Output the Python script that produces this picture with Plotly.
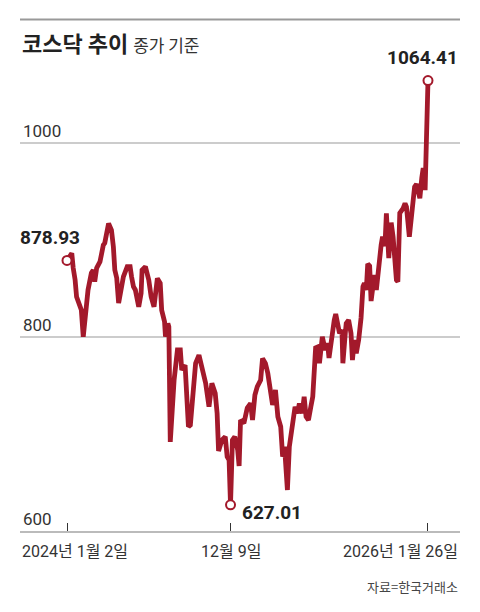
import plotly.graph_objects as go

dates = [
    "2024-01-02", "2024-01-12", "2024-01-15", "2024-01-19", "2024-01-22", "2024-01-26",
    "2024-02-01", "2024-02-05", "2024-02-08", "2024-02-15", "2024-02-22", "2024-02-26",
    "2024-02-29", "2024-03-04", "2024-03-11", "2024-03-14", "2024-03-18", "2024-03-21",
    "2024-03-25", "2024-03-29", "2024-04-04", "2024-04-08", "2024-04-11", "2024-04-15",
    "2024-04-19", "2024-04-24", "2024-04-29", "2024-05-07", "2024-05-13", "2024-05-16",
    "2024-05-20", "2024-05-24", "2024-05-31", "2024-06-05", "2024-06-07", "2024-06-14",
    "2024-06-21", "2024-06-26", "2024-07-02", "2024-07-09", "2024-07-15", "2024-07-18",
    "2024-07-24", "2024-07-26", "2024-07-31", "2024-08-02", "2024-08-05", "2024-08-13",
    "2024-08-20", "2024-08-26", "2024-08-29", "2024-09-05", "2024-09-12", "2024-09-16",
    "2024-09-20", "2024-09-27", "2024-10-04", "2024-10-10", "2024-10-18", "2024-10-25",
    "2024-10-31", "2024-11-07", "2024-11-11", "2024-11-14", "2024-11-21", "2024-11-28",
    "2024-12-02", "2024-12-06", "2024-12-09", "2024-12-13", "2024-12-18", "2024-12-24",
    "2024-12-27", "2024-12-30", "2025-01-06", "2025-01-13", "2025-01-20", "2025-01-24",
    "2025-01-29", "2025-02-03", "2025-02-10", "2025-02-14", "2025-02-20", "2025-02-25",
    "2025-03-04", "2025-03-07", "2025-03-13", "2025-03-18", "2025-03-24", "2025-03-28",
    "2025-04-01", "2025-04-07", "2025-04-11", "2025-04-17", "2025-04-23", "2025-04-28",
    "2025-05-02", "2025-05-08", "2025-05-12", "2025-05-16", "2025-05-21", "2025-05-26",
    "2025-05-30", "2025-06-05", "2025-06-11", "2025-06-13", "2025-06-19", "2025-06-25",
    "2025-06-30", "2025-07-03", "2025-07-09", "2025-07-14", "2025-07-17", "2025-07-23",
    "2025-07-25", "2025-07-30", "2025-08-01", "2025-08-06", "2025-08-08", "2025-08-13",
    "2025-08-18", "2025-08-21", "2025-08-25", "2025-08-29", "2025-09-03", "2025-09-08",
    "2025-09-12", "2025-09-15", "2025-09-19", "2025-09-22", "2025-09-26", "2025-09-29",
    "2025-10-06", "2025-10-10", "2025-10-15", "2025-10-20", "2025-10-23", "2025-10-28",
    "2025-10-31", "2025-11-05", "2025-11-10", "2025-11-14", "2025-11-21", "2025-11-24",
    "2025-11-28", "2025-12-05", "2025-12-09", "2025-12-12", "2025-12-18", "2025-12-23",
    "2025-12-29", "2026-01-02", "2026-01-06", "2026-01-09", "2026-01-13", "2026-01-16",
    "2026-01-20", "2026-01-22", "2026-01-23", "2026-01-26",
]

values = [
    878.93, 886.3, 871.1, 858.8, 841.5, 836.4,
    827.8, 800.3, 817.5, 848.5, 866.0, 869.1,
    857.0, 871.1, 877.6, 886.6, 894.8, 896.9,
    910.3, 917.2, 910.3, 893.1, 869.1, 860.8,
    835.1, 848.5, 862.2, 872.5, 872.5, 862.2,
    851.9, 848.5, 831.2, 845.1, 869.1, 872.5,
    858.8, 841.5, 831.2, 860.5, 855.4, 827.8,
    815.8, 800.3, 814.1, 810.6, 691.8, 755.7,
    786.6, 786.6, 766.0, 771.1, 707.5, 709.3,
    738.5, 772.9, 781.4, 770.1, 752.3, 728.1,
    752.3, 742.0, 721.3, 682.5, 693.8, 697.2,
    676.6, 673.2, 627.01, 693.8, 697.2, 683.5,
    667.0, 714.4, 711.0, 726.8, 731.6, 714.4,
    740.2, 748.8, 755.7, 778.0, 772.9, 762.6,
    742.0, 729.9, 745.4, 717.8, 707.5, 676.6,
    686.9, 642.3, 686.9, 704.1, 728.1, 721.3,
    731.6, 721.3, 738.5, 717.8, 714.4, 728.1,
    738.5, 788.7, 790.0, 772.9, 800.3, 786.6,
    793.5, 778.4, 803.8, 817.5, 823.7, 810.6,
    803.8, 807.2, 772.9, 803.8, 814.1, 817.5,
    803.8, 776.3, 796.9, 783.2, 796.9, 819.6,
    851.9, 855.4, 848.5, 875.3, 873.2, 837.1,
    863.9, 848.5, 879.4, 894.8, 903.4, 893.8,
    927.5, 881.4, 918.0, 903.4, 858.8, 857.0,
    927.8, 932.7, 937.8, 934.3, 903.4, 930.9,
    954.9, 957.7, 944.6, 943.0, 963.9, 974.2,
    951.5, 982.5, 1003.1, 1064.41,
]

y_ticks = [600, 800, 1000]
y_tick_labels = ["600", "800", "1000"]
x_tick_dates = ["2024-01-02", "2024-12-09", "2026-01-26"]
x_tick_labels = ["2024년 1월 2일", "12월 9일", "2026년 1월 26일"]

RED = "#a3192b"
NUM_FONT = "Roboto, Noto Sans CJK KR, sans-serif"
KR_FONT = "Noto Sans CJK KR, sans-serif"

i_min = values.index(min(values))
key_idx = [0, i_min, len(values) - 1]

fig = go.Figure()
fig.add_trace(go.Scatter(
    x=dates, y=values, mode="lines",
    line=dict(color=RED, width=4.8), hoverinfo="skip",
))
fig.add_trace(go.Scatter(
    x=[dates[i] for i in key_idx], y=[values[i] for i in key_idx],
    mode="markers",
    marker=dict(symbol="circle", size=9, color="white", line=dict(color=RED, width=2)),
    hoverinfo="skip",
))

annotations = [
    dict(xref="paper", yref="paper", x=0, y=1.038, xanchor="left", yanchor="middle",
         text="<b>코스닥 추이</b> <span style='font-size:17px;color:#333'>종가 기준</span>",
         showarrow=False, font=dict(family=KR_FONT, size=22, color="#222")),
    dict(xref="x", yref="y", x=dates[0], y=values[0], xanchor="left", yanchor="middle",
         xshift=-49, yshift=23, text="<b>%.2f</b>" % values[0], showarrow=False,
         font=dict(family=NUM_FONT, size=19, color="#222")),
    dict(xref="x", yref="y", x=dates[i_min], y=values[i_min], xanchor="left", yanchor="middle",
         xshift=9, yshift=-8, text="<b>%.2f</b>" % values[i_min], showarrow=False,
         font=dict(family=NUM_FONT, size=19, color="#222")),
    dict(xref="x", yref="y", x=dates[-1], y=values[-1], xanchor="right", yanchor="middle",
         xshift=32, yshift=23, text="<b>%.2f</b>" % values[-1], showarrow=False,
         font=dict(family=NUM_FONT, size=19, color="#222")),
    dict(xref="paper", yref="paper", x=0, y=0, xanchor="left", yanchor="top", yshift=-9,
         text=x_tick_labels[0], showarrow=False, font=dict(family=NUM_FONT, size=16, color="#333")),
    dict(xref="x", yref="paper", x=x_tick_dates[1], y=0, xanchor="center", yanchor="top", yshift=-9,
         text=x_tick_labels[1], showarrow=False, font=dict(family=NUM_FONT, size=16, color="#333")),
    dict(xref="paper", yref="paper", x=1, y=0, xanchor="right", yanchor="top", yshift=-9,
         text=x_tick_labels[2], showarrow=False, font=dict(family=NUM_FONT, size=16, color="#333")),
    dict(xref="paper", yref="paper", x=1, y=0, xanchor="right", yanchor="middle", yshift=-55,
         text="자료=한국거래소", showarrow=False, font=dict(family=KR_FONT, size=13, color="#444")),
]

fig.update_layout(
    width=480, height=612,
    margin=dict(l=20, r=20, t=60, b=81),
    paper_bgcolor="white", plot_bgcolor="white",
    showlegend=False,
    annotations=annotations,
    shapes=[dict(type="line", xref="paper", yref="paper", x0=0, x1=1, y0=1.086, y1=1.086,
                 line=dict(color="#999", width=2))],
    xaxis=dict(
        type="date", range=["2023-09-25 17:00", "2026-04-02 23:00"],
        showgrid=False, zeroline=False, showline=True, linecolor="#bbb", linewidth=2,
        ticks="inside", ticklen=8, tickwidth=1, tickcolor="#333",
        tickvals=x_tick_dates, showticklabels=False, fixedrange=True,
    ),
    yaxis=dict(
        range=[600, 1085.6], tickvals=y_ticks, ticktext=y_tick_labels,
        showgrid=True, gridcolor="#ccc", gridwidth=1.5, zeroline=False, showline=False,
        ticks="", ticklabelposition="inside top",
        tickfont=dict(family=NUM_FONT, size=17, color="#333"), fixedrange=True,
    ),
)

fig.write_html("out.html")
